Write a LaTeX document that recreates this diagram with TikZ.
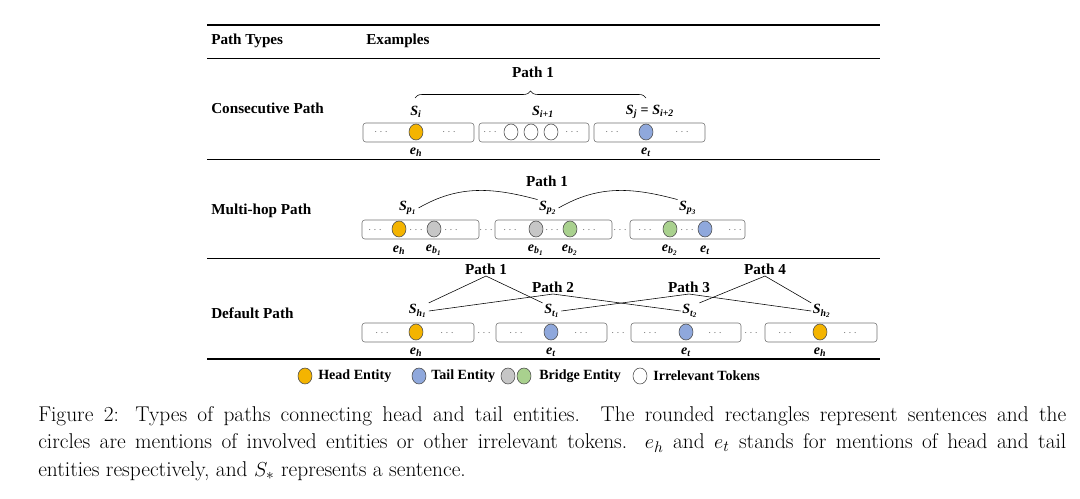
\documentclass[tikz,border=0pt]{standalone}
\usepackage{fontspec}
\usepackage{amsmath}
\newfontfamily\tnr{Liberation Serif}
\usetikzlibrary{decorations.pathreplacing,shapes.geometric}
\definecolor{headc}{HTML}{F4B400}
\definecolor{tailc}{HTML}{8FA8DC}
\definecolor{bridgeg}{HTML}{C6C6C6}
\definecolor{bridgeb}{HTML}{A9D18E}
\newcommand{\sv}[2]{\textit{#1}\textsubscript{\textit{#2}}}

\begin{document}
\begin{tikzpicture}[x=0.025cm,y=-0.025cm,
		lab/.style={font=\tnr\bfseries\fontsize{10.8}{12}\selectfont},
		leg/.style={font=\tnr\bfseries\fontsize{10}{11}\selectfont, anchor=west, inner sep=0pt},
		sub/.style={font=\tnr\bfseries\fontsize{10}{11}\selectfont, inner sep=1pt},
		sent/.style={draw=black!55, rounded corners=2pt, fill=white},
		ent/.style={draw=black!70, ellipse, minimum width=14*0.025cm, minimum height=16*0.025cm, inner sep=0pt, outer sep=0pt, fill=#1},
		dots/.style={font=\fontsize{7}{8}\selectfont, text=black!60, inner sep=0pt}]
		\useasboundingbox (0,0) rectangle (1080,499);

		% rules
		\draw [line width=1.3pt] (207,25) -- (880,25);
		\draw [line width=0.5pt] (207,58) -- (880,58);
		\draw [line width=0.5pt] (207,159) -- (880,159);
		\draw [line width=0.5pt] (207,258) -- (880,258);
		\draw [line width=1.3pt] (207,359) -- (880,359);
		\node [lab, anchor=west, inner sep=0pt] (hd1) at (211,41) {Path Types};
		\node [lab, anchor=west, inner sep=0pt] (hd2) at (366,41) {Examples};

		% consecutive path
		\node [lab, anchor=west, inner sep=0pt] (cons) at (211,108) {Consecutive Path};
		\draw [sent] (363,123) rectangle (474,142);
		\draw [sent] (479,123) rectangle (589,142);
		\draw [sent] (594,123) rectangle (705,142);
		\node [ent=headc] (c1) at (416,132) {};
		\node [ent=white] (c2) at (511,132) {};
		\node [ent=white] (c3) at (531,132) {};
		\node [ent=white] (c4) at (551,132) {};
		\node [ent=tailc] (c5) at (646,132) {};
		\foreach \x in {382,450,491,573,613,683} \node [dots] at (\x,132) {$\cdots$};
		\node [sub] (si) at (416,112) {\sv{S}{i}};
		\node [sub] (sii) at (543,112) {\sv{S}{i+1}};
		\node [sub] (sj) at (650,112) {\sv{S}{j} = \sv{S}{i+2}};
		\node [sub] (eh1) at (416,152) {\sv{e}{h}};
		\node [sub] (et1) at (646,152) {\sv{e}{t}};
		\draw [decorate, decoration={brace, amplitude=5pt}] (415,98) -- (646,98);
		\node [lab] (p1a) at (533,72) {Path 1};

		% multi-hop path
		\node [lab, anchor=west, inner sep=0pt] (multi) at (211,211) {Multi-hop Path};
		\draw [sent] (362,220) rectangle (479,239);
		\draw [sent] (495,220) rectangle (612,239);
		\draw [sent] (630,220) rectangle (745,239);
		\foreach \x in {487,621} \node [dots] at (\x,230) {$\cdots$};
		\foreach \x in {376,417,452,511,553,590,646,688,736} \node [dots] at (\x,230) {$\cdots$};
		\node [ent=headc] (m1) at (399,229) {};
		\node [ent=bridgeg] (m2) at (434,229) {};
		\node [ent=bridgeg] (m3) at (536,229) {};
		\node [ent=bridgeb] (m4) at (570,229) {};
		\node [ent=bridgeb] (m5) at (670,229) {};
		\node [ent=tailc] (m6) at (705,229) {};
		\node [sub] (sp1) at (408,208) {\sv{S}{p\textsubscript{1}}};
		\node [sub] (sp2) at (548,208) {\sv{S}{p\textsubscript{2}}};
		\node [sub] (sp3) at (688,208) {\sv{S}{p\textsubscript{3}}};
		\draw (sp1.east) to[out=30, in=165] (sp2.north west);
		\draw (sp2.east) to[out=30, in=165] (sp3.north west);
		\node [lab] (p1b) at (547,181) {Path 1};
		\node [sub] at (399,250) {\sv{e}{h}};
		\node [sub] at (434,250) {\sv{e}{b\textsubscript{1}}};
		\node [sub] at (536,250) {\sv{e}{b\textsubscript{1}}};
		\node [sub] at (570,250) {\sv{e}{b\textsubscript{2}}};
		\node [sub] at (670,250) {\sv{e}{b\textsubscript{2}}};
		\node [sub] at (705,250) {\sv{e}{t}};

		% default path
		\node [lab, anchor=west, inner sep=0pt] (deflt) at (211,313) {Default Path};
		\draw [sent] (362,323) rectangle (474,342);
		\draw [sent] (496,323) rectangle (607,342);
		\draw [sent] (631,323) rectangle (741,342);
		\draw [sent] (765,323) rectangle (877,342);
		\foreach \x in {485,619,752} \node [dots] at (\x,333) {$\cdots$};
		\foreach \x in {383,448,517,582,651,716,786,851} \node [dots] at (\x,333) {$\cdots$};
		\node [ent=headc] (d1) at (416,332) {};
		\node [ent=tailc] (d2) at (551,332) {};
		\node [ent=tailc] (d3) at (686,332) {};
		\node [ent=headc] (d4) at (820,332) {};
		\node [sub] at (416,352) {\sv{e}{h}};
		\node [sub] at (551,352) {\sv{e}{t}};
		\node [sub] at (686,352) {\sv{e}{t}};
		\node [sub] at (820,352) {\sv{e}{h}};
		\node [sub] (sh1) at (418,311) {\sv{S}{h\textsubscript{1}}};
		\node [sub] (st1) at (552,311) {\sv{S}{t\textsubscript{1}}};
		\node [sub] (st2) at (690,311) {\sv{S}{t\textsubscript{2}}};
		\node [sub] (sh2) at (822,311) {\sv{S}{h\textsubscript{2}}};
		\node [lab, inner sep=1pt] (pa1) at (486,269) {Path 1};
		\node [lab, inner sep=1pt] (pa2) at (553,287) {Path 2};
		\node [lab, inner sep=1pt] (pa3) at (689,287) {Path 3};
		\node [lab, inner sep=1pt] (pa4) at (765,269) {Path 4};
		\draw (sh1.north east) -- (pa1.south) -- (st1.north west);
		\draw (sh1.east) -- (pa2.south) -- (st2.west);
		\draw (st1.east) -- (pa3.south) -- (sh2.west);
		\draw (st2.north east) -- (pa4.south) -- (sh2.north west);

		% legend
		\node [ent=headc] (l1) at (305,376) {};
		\node [leg] at (318,376) {Head Entity};
		\node [ent=tailc] (l2) at (419,376) {};
		\node [leg] at (431,376) {Tail Entity};
		\node [ent=bridgeg] (l3) at (508,376) {};
		\node [ent=bridgeb] (l4) at (524,376) {};
		\node [leg] at (539,376) {Bridge Entity};
		\node [ent=white] (l5) at (640,376) {};
		\node [leg] at (653,376) {Irrelevant Tokens};

		% caption
		\node [anchor=north west, inner sep=0pt, text width=1028*0.025cm, align=justify,
			font=\fontsize{15.2}{19.5}\selectfont] (cap) at (38,406) {Figure 2: Types of paths connecting head and tail entities.\ \ The rounded rectangles represent sentences and the\linebreak circles are mentions of involved entities or other irrelevant tokens. $e_h$ and $e_t$ stands for mentions of head and tail\linebreak entities respectively, and $S_*$ represents a sentence.};
	\end{tikzpicture}
\end{document}
